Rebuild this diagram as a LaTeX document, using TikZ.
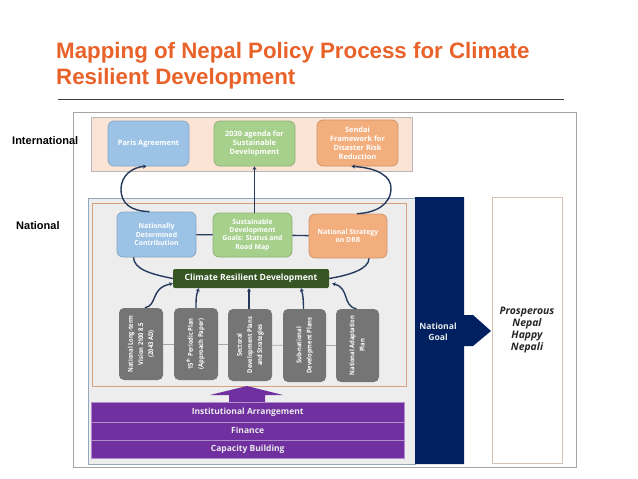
\documentclass[tikz,border=0pt]{standalone}
\usepackage{fontspec}
\usepackage{graphicx}
\setmainfont{Liberation Sans}
\newfontfamily\dfont{Open Sans}
\usetikzlibrary{calc,arrows.meta}
\definecolor{titleor}{HTML}{E8622A}
\definecolor{bluebox}{HTML}{9CC3E6}
\definecolor{greenbox}{HTML}{A6D08C}
\definecolor{orbox}{HTML}{F3AE7E}
\definecolor{peach}{HTML}{FBE3D5}
\definecolor{graybox}{HTML}{757575}
\definecolor{dkgreen}{HTML}{375623}
\definecolor{purp}{HTML}{7030A0}
\definecolor{navy}{HTML}{002060}
\definecolor{conn}{HTML}{263A5E}
\tikzset{
  x=1pt,y=-1pt,
  panel/.style={draw=#1,line width=0.8pt,inner sep=0pt,anchor=north west},
  rbox/.style={draw=#1!85!black,fill=#1,rounded corners=6pt,line width=0.7pt,inner sep=1pt,align=center,text=white,font=\dfont\bfseries\fontsize{7.4}{9.1}\selectfont},
  rboxlow/.style={rbox=#1,font=\dfont\bfseries\fontsize{6.9}{8.2}\selectfont},
  gbox/.style={fill=graybox,rounded corners=5pt,inner sep=0pt,text=white,font=\dfont\bfseries\fontsize{6.6}{10.2}\selectfont},
  bar/.style={fill=purp,draw=purp!55!white,line width=0.4pt,inner sep=0pt,text=white!92!black,font=\dfont\bfseries\fontsize{8.5}{10}\selectfont},
  conline/.style={draw=conn,line width=1.4pt},
  conarrow/.style={conn,line width=1.4pt,-{Stealth[length=3.5pt,width=4pt]}},
  thinlink/.style={draw=gray!70,line width=0.8pt},
  sidelabel/.style={font=\bfseries\fontsize{11}{13}\selectfont,inner sep=0pt,anchor=west}
}
\newcommand{\vtext}[1]{\rotatebox{90}{\scalebox{0.88}[1]{\begin{tabular}{@{}c@{}}#1\end{tabular}}}}
\begin{document}
\begin{tikzpicture}
\useasboundingbox (0,0) rectangle (638,479);
\fill[white] (0,0) rectangle (638,479);
% title
\node[anchor=north west,inner sep=0pt,align=left,text=titleor,font=\bfseries\fontsize{22.3}{26}\selectfont] (title) at (56,42.5) {Mapping of Nepal Policy Process for Climate\\Resilient Development};
\coordinate (ruleL) at (58,99.5);
\coordinate (ruleR) at (564,99.5);
\draw[line width=1pt,black!75] (ruleL) -- (ruleR);
% frame
\node[panel=gray!70,fill=white,minimum width=503pt,minimum height=355pt] (frame) at (73,112) {};
\node[sidelabel] (intl) at (12,141) {International};
\node[sidelabel] (natl) at (16,226) {National};
% international band
\node[panel=gray!55,fill=peach,minimum width=321pt,minimum height=54pt] (band) at (91,117) {};
\node[rbox=bluebox,minimum width=81pt,minimum height=45pt] (paris) at (148.5,143.5) {Paris Agreement};
\node[rbox=greenbox,minimum width=81pt,minimum height=45pt] (agenda) at (254.5,143.5) {2030 agenda for\\Sustainable\\Development};
\node[rbox=orbox,minimum width=81pt,minimum height=46pt] (sendai) at (357.5,143) {Sendai\\Framework for\\Disaster Risk\\Reduction};
% national
\node[panel=bluebox!60!gray,fill=gray!14,minimum width=327pt,minimum height=266pt] (nat) at (88,198) {};
\node[panel=orbox!75!gray,minimum width=314pt,minimum height=183pt,line width=0.6pt] (inner) at (92,203) {};
\node[rboxlow=bluebox,minimum width=79pt,minimum height=45pt] (ndc) at (156.5,234.5) {Nationally\\Determined\\Contribution};
\node[rboxlow=greenbox,minimum width=79pt,minimum height=44pt] (sdg) at (252.5,235) {Sustainable\\Development\\Goals: Status and\\Road Map};
\node[rboxlow=orbox,minimum width=78pt,minimum height=44pt] (drr) at (348,236) {National Strategy\\on DRR};
\node[fill=dkgreen,rounded corners=2pt,minimum width=156pt,minimum height=19pt,inner sep=0pt,text=white,font=\dfont\bfseries\fontsize{8.6}{10}\selectfont] (crd) at (251,278.5) {Climate Resilient Development};
% gray boxes
\node[gbox,minimum width=44pt,minimum height=72pt] (g1) at (141,344) {\vtext{National Long-term\\Vision 2100 8.5\\(2043 AD)}};
\node[gbox,minimum width=44pt,minimum height=72pt] (g2) at (196,344) {\vtext{15\textsuperscript{th} Periodic Plan\\(Approach Paper)}};
\node[gbox,minimum width=44pt,minimum height=72pt] (g3) at (250,345) {\vtext{Sectoral\\Development Plans\\and Strategies}};
\node[gbox,minimum width=43pt,minimum height=73pt] (g4) at (304.5,345.5) {\vtext{Sub-national\\Development Plans}};
\node[gbox,minimum width=43pt,minimum height=73pt] (g5) at (357.5,345.5) {\vtext{National Adaptation\\Plan}};
% thin links
\draw[thinlink] (g1) -- (g2);
\draw[thinlink] (g2) -- (g3);
\draw[thinlink] (g3) -- (g4);
\draw[thinlink] (g4) -- (g5);
\draw[conline] (ndc) -- (sdg);
\draw[conline] (sdg) -- (drr);
% upper connectors
\draw[conarrow] ($(ndc.north)+(-7,0)$) .. controls (131,211) and (121,204) .. (121,189) .. controls (121,176) and (132,167) .. ($(paris.south)+(-2,0)$);
\draw[conarrow] ($(sdg.north)+(2,0)$) -- ($(agenda.south)+(0,0)$);
\draw[conarrow] ($(drr.north)+(9,0)$) .. controls (375,213) and (391,205) .. (391,188) .. controls (391,177) and (379,168) .. ($(sendai.south)+(-6,0)$);
% into CRD
\draw[conline] ($(ndc.south)+(-23,0)$) .. controls (134,269) and (150,274) .. (crd.west);
\draw[conline] ($(drr.south)+(21,0)$) .. controls (369,269) and (350,275) .. (crd.east);
% up from gray boxes
\draw[conarrow] ($(g1.north)+(4,0)$) .. controls (158,305) and (150,288) .. ($(crd.west)+(0,5)$);
\draw[conarrow] ($(g2.north)+(0,0)$) .. controls (196,300) and (196,295) .. ($(crd.south)+(-52,0)$);
\draw[conarrow] ($(g3.north)+(-1,0)$) -- ($(crd.south)+(-2,0)$);
\draw[conarrow] ($(g4.north)+(-1,0)$) .. controls (303.5,300) and (303,295) .. ($(crd.south)+(50,0)$);
\draw[conarrow] ($(g5.north)+(-1,0)$) .. controls (342,306) and (350,288) .. ($(crd.east)+(3,5)$);
% purple up arrow and bars
\fill[purp] (229,402) -- (229,395) -- (210,395) -- (247,386) -- (283,395) -- (265,395) -- (265,402) -- cycle;
\node[bar,anchor=north west,minimum width=313pt,minimum height=19.5pt] (b1) at (91,402) {Institutional Arrangement};
\node[bar,anchor=north west,minimum width=313pt,minimum height=18pt] (b2) at (91,421.5) {Finance};
\node[bar,anchor=north west,minimum width=313pt,minimum height=18.5pt] (b3) at (91,439.5) {Capacity Building};
% navy goal
\fill[navy] (415,197) -- (464,197) -- (464,315) -- (473,315) -- (491,331) -- (473,346) -- (464,346) -- (464,464) -- (415,464) -- cycle;
\node[inner sep=0pt,align=center,text=white!92!black,font=\dfont\bfseries\fontsize{8.6}{11}\selectfont] (goal) at (438,331.5) {National\\Goal};
% outcome
\node[panel=orbox!50!gray!60,fill=white,line width=0.7pt,minimum width=70pt,minimum height=266pt] (out) at (492,197) {};
\node[inner sep=0pt,align=center,text=black!85,font=\dfont\bfseries\itshape\fontsize{10.4}{12}\selectfont] (outtxt) at (527,330.5) {Prosperous\\Nepal\\Happy\\Nepali};
\end{tikzpicture}
\end{document}
